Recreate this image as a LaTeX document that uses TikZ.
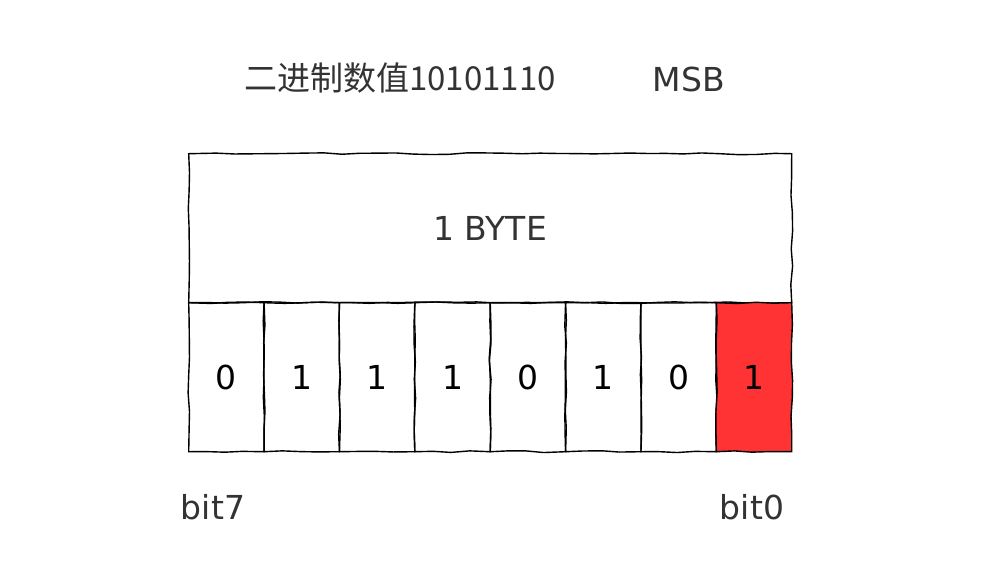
\documentclass[tikz,border=0pt]{standalone}
\usepackage{fontspec}
\setmainfont{DejaVu Sans}
\newfontfamily\cjk{Noto Sans CJK SC}
\usetikzlibrary{decorations.pathmorphing}
\definecolor{txt}{HTML}{333333}
\definecolor{bitred}{HTML}{FF3333}
\begin{document}
\begin{tikzpicture}[x=1pt,y=-1pt,
  sketch/.style={draw=black, line width=1.4pt, decorate,
    decoration={random steps, segment length=18pt, amplitude=0.9pt}},
  bytebox/.style={sketch, rectangle, minimum width=603pt, minimum height=149pt,
    inner sep=0pt, anchor=north west},
  bitcell/.style={sketch, rectangle, minimum width=75.375pt, minimum height=149pt,
    inner sep=0pt, anchor=north west},
  lbl/.style={text=txt, font=\fontsize{33}{37}\selectfont, inner sep=0pt},
  cell/.style={text=black, font=\fontsize{33}{37}\selectfont}]
\pgfmathsetseed{7}
\useasboundingbox (0,0) rectangle (987,579);
\fill[white] (0,0) rectangle (987,579);
\node[lbl, font=\cjk\fontsize{33}{37}\selectfont] (title) at (400,78) {二进制数值10101110};
\node[lbl] (msb) at (689,79) {MSB};
\node[bytebox] (byte) at (188,153) {};
\node[lbl] (bytelbl) at (byte.center) {1 BYTE};
\foreach \i/\v in {0/0,1/1,2/1,3/1,4/0,5/1,6/0}{
  \node[bitcell, label={[cell]center:\v}] (c\i) at ({188+75.375*\i},302) {};
}
\node[bitcell, fill=bitred, label={[cell]center:1}] (c7) at ({188+75.375*7},302) {};
\node[lbl] (bit7) at (213,507) {bit7};
\node[lbl] (bit0) at (752,507) {bit0};
\end{tikzpicture}
\end{document}
